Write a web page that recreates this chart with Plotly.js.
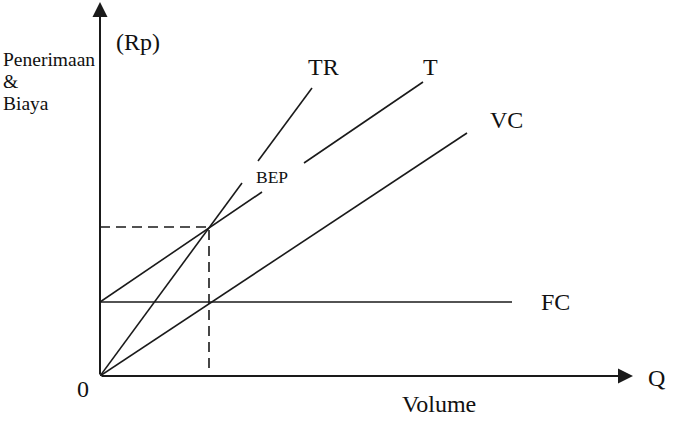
<!DOCTYPE html>
<html>
<head>
<meta charset="utf-8">
<script src="https://cdn.plot.ly/plotly-3.0.1.min.js"></script>
<style>html,body{margin:0;padding:0;background:#fff;}#chart{width:683px;height:424px;}</style>
</head>
<body>
<div id="chart"></div>
<script>
// Values (Q on horizontal, Rp on vertical)
var tr_q  = [0, 142, null, 158, 212];
var tr_rp = [0, 193, null, 215, 288];
var tc_q  = [0, 162, null, 204, 323];
var tc_rp = [74, 184, null, 213, 294];
var vc_q  = [0, 367];
var vc_rp = [0, 243];
var fc_q  = [0, 412];
var fc_rp = [74, 74];
var bep_q = [0, 109, 109];
var bep_rp = [149, 149, 5];
var axisMax = {q: 533, rp: 374};

var lineStyle = {color: '#1a1a1a', width: 1.6};
var traces = [
  {x: tr_q, y: tr_rp, mode: 'lines', line: lineStyle, connectgaps: false},
  {x: tc_q, y: tc_rp, mode: 'lines', line: lineStyle, connectgaps: false},
  {x: vc_q, y: vc_rp, mode: 'lines', line: lineStyle},
  {x: fc_q, y: fc_rp, mode: 'lines', line: lineStyle},
  {x: bep_q, y: bep_rp, mode: 'lines', line: {color: '#1a1a1a', width: 1.6, dash: '10px,6px'}}
];

var serif = 'Liberation Serif, Times New Roman, serif';
function label(text, x, y, size, anchor) {
  return {text: text, x: x / axisMax.q, y: y / axisMax.rp, xref: 'paper', yref: 'paper', showarrow: false,
    xanchor: anchor || 'center', yanchor: 'middle',
    font: {family: serif, size: size, color: '#111'}};
}

var annotations = [
  // axes with arrowheads
  {x: axisMax.q, y: 0, ax: 0, ay: 0, axref: 'x', ayref: 'y', xref: 'x', yref: 'y',
   showarrow: true, arrowhead: 2, arrowsize: 1.5, arrowwidth: 2, arrowcolor: '#1a1a1a', text: '', standoff: 0},
  {x: 0, y: axisMax.rp, ax: 0, ay: 0, axref: 'x', ayref: 'y', xref: 'x', yref: 'y',
   showarrow: true, arrowhead: 2, arrowsize: 1.5, arrowwidth: 2, arrowcolor: '#1a1a1a', text: '', standoff: 0},
  label('(Rp)', 38, 334, 24),
  label('Penerimaan', -99, 316, 19.5, 'left'),
  label('&amp;', -99, 294, 19.5, 'left'),
  label('Biaya', -99, 272, 19.5, 'left'),
  label('TR', 223, 309, 24),
  label('T', 330, 309, 24),
  label('VC', 406, 256, 24),
  label('BEP', 172, 199, 17.5),
  label('FC', 455, 74, 24),
  label('Q', 556, -2, 24),
  label('0', -17, -13, 24),
  label('Volume', 339, -28, 24)
];

var layout = {
  width: 683, height: 424,
  margin: {l: 100, r: 50, t: 2, b: 48, pad: 0},
  paper_bgcolor: '#fff', plot_bgcolor: '#fff',
  showlegend: false,
  xaxis: {range: [0, axisMax.q], visible: false, fixedrange: true},
  yaxis: {range: [0, axisMax.rp], visible: false, fixedrange: true},
  annotations: annotations
};

Plotly.newPlot('chart', traces, layout, {displayModeBar: false, staticPlot: true});
</script>
</body>
</html>
